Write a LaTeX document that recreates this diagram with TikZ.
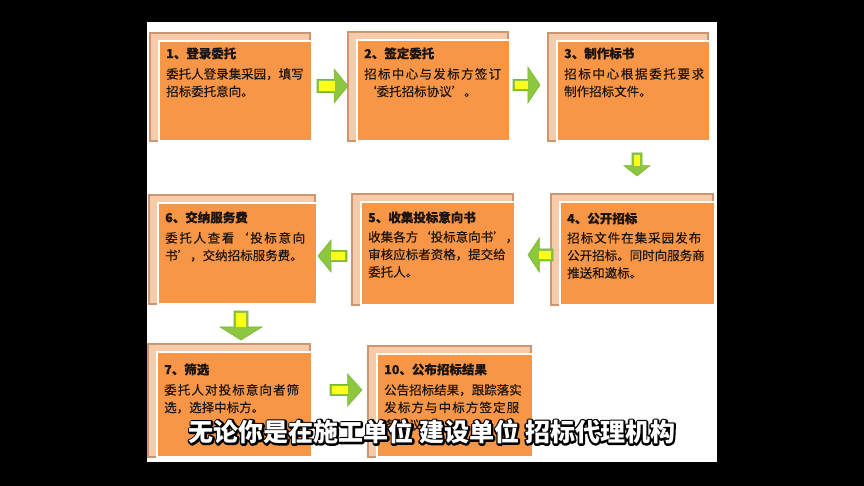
\documentclass[tikz,border=0pt]{standalone}
\usepackage{fontspec}
\setmainfont{Noto Sans CJK SC}
\newfontfamily\bodyfont{Noto Sans CJK SC}[FakeBold=0.25]
\definecolor{orangef}{HTML}{F79646}
\definecolor{peach}{HTML}{F6CBAA}
\definecolor{peachedge}{HTML}{CC9673}
\definecolor{agreen}{HTML}{8DC63F}
\definecolor{agreenedge}{HTML}{7AB534}
\definecolor{ayellow}{HTML}{FFFF1A}
\definecolor{textc}{HTML}{1E1510}
\def\endsprd{ENDSPRD}
\def\sprd#1{\ifx#1\endsprd\else\hfill#1\expandafter\sprd\fi}
\def\sprdfirst#1{#1\sprd}
\newcommand\fl[2][136]{\makebox[#1pt][s]{\sprdfirst#2\endsprd}}
\tikzset{
  frontbox/.style={fill=orangef, draw=white, line width=2pt, inner sep=0pt, outer sep=0pt},
  backbox/.style={fill=peach, draw=peachedge, line width=2.2pt},
  boxtxt/.style={anchor=north west, inner sep=0pt, text width=150pt, align=left,
    font=\bodyfont\fontsize{12.5}{17.5}\selectfont, text=textc},
  arrowbody/.style={fill=agreen, draw=agreenedge, line width=0.6pt, line join=miter},
  arrowcore/.style={fill=ayellow},
  subtxt/.style={font=\fontsize{25}{29}\selectfont\bfseries, inner sep=0pt}
}
\newcommand\stepbox[5]{%
  \draw[backbox] (#2-9,#3-8) rectangle (#2+#4-2,#3+#5);
  \node[frontbox, minimum width=#4pt, minimum height=#5pt, anchor=north west] (#1) at (#2,#3) {};}
\newcommand\boxtext[4]{%
  \node[boxtxt] (#1) at ([shift={(7,#3-12.25)}]#2.north west) {\strut #4};}
% tail x, tail y, rotation, length, head half-height, shaft half-height
\newcommand\barrow[6]{%
  \begin{scope}[shift={(#1,#2)}, rotate=#3]
    \filldraw[arrowbody] (0,-#6) -- ({0.55*#4},-#6) -- ({0.55*#4},-#5) -- (#4,0)
      -- ({0.55*#4},#5) -- ({0.55*#4},#6) -- (0,#6) -- cycle;
    \fill[arrowcore] (1.6,{-#6+1.8}) rectangle ({0.55*#4+0.5},{#6-1.8});
  \end{scope}}
\newcommand\subline{无论你是在施工单位 建设单位 招标代理机构}
\begin{document}
\begin{tikzpicture}[x=1pt,y=-1pt]
\useasboundingbox (0,0) rectangle (864,486);
\fill[black] (0,0) rectangle (864,486);
\fill[white] (147,22) rectangle (717,462);

\stepbox{b1}{159}{41}{153}{100}
\stepbox{b2}{357}{40}{153}{101}
\stepbox{b3}{557}{41}{153}{100}
\stepbox{b4}{560}{202}{155}{103}
\stepbox{b5}{361}{202}{154}{103}
\stepbox{b6}{158}{203}{159}{101}
\stepbox{b7}{157}{352}{155}{105}
\stepbox{b10}{377}{354}{156}{103}

\boxtext{t1}{b1}{17}{{\bfseries 1、登录委托}\\[3pt]\fl{委托人登录集采园，填写}\\招标委托意向。}
\boxtext{t2}{b2}{18}{{\bfseries 2、签定委托}\\[3pt]\fl[137]{招标中心与发标方签订}\\‘委托招标协议’。}
\boxtext{t3}{b3}{17}{{\bfseries 3、制作标书}\\[3pt]\fl[140]{招标中心根据委托要求}\\制作招标文件。}
\boxtext{t4}{b4}{21}{{\bfseries 4、公开招标}\\[2pt]\fl[134]{招标文件在集采园发布}\\\fl[134]{公开招标。同时向服务商}\\推送和邀标。}
\boxtext{t5}{b5}{20}{{\bfseries 5、收集投标意向书}\\[2pt]\fl[134]{收集各方‘投标意向书’，}\\\fl[134]{审核应标者资格，提交给}\\委托人。}
\boxtext{t6}{b6}{19}{{\bfseries 6、交纳服务费}\\[3pt]\fl[140]{委托人查看‘投标意向}\\书’，交纳招标服务费。}
\boxtext{t7}{b7}{22}{{\bfseries 7、筛选}\\[3pt]\fl[135]{委托人对投标意向者筛}\\选，选择中标方。}
\boxtext{t10}{b10}{20}{{\bfseries 10、公布招标结果}\\[3pt]\fl[135]{公告招标结果，跟踪落实}\\\fl[135]{发标方与中标方签定服}\\务协议。}

\barrow{317}{86}{0}{31}{17}{6.5}
\barrow{513}{85}{0}{27}{18}{5.5}
\barrow{637}{153}{-90}{23}{13}{5}
\barrow{553}{255}{180}{25}{17}{6}
\barrow{347}{256}{180}{29}{16}{5.5}
\barrow{241}{311}{-90}{29}{21}{7}
\barrow{330}{390}{0}{32}{16}{5.5}

\coordinate (subc) at (432,432);
\node[subtxt, text=black] (subo) at (subc) {\special{pdf:literal direct 1 Tr 3.6 w 1 j 0 0 0 RG}\subline\special{pdf:literal direct 0 Tr}};
\node[subtxt, text=white] (sub) at (subc) {\subline};
\end{tikzpicture}
\end{document}
